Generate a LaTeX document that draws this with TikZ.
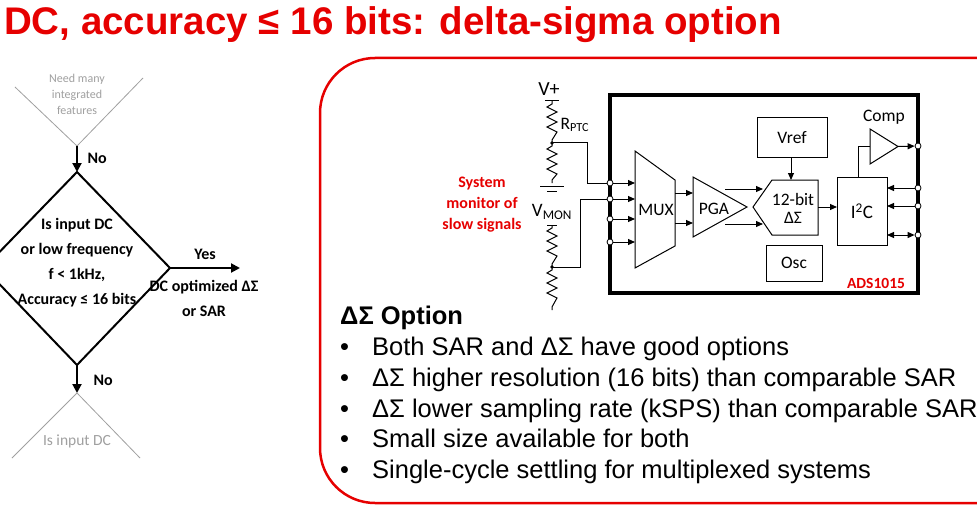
\documentclass[tikz,border=0pt]{standalone}
\usepackage{fontspec}
\setmainfont{Liberation Sans}
\newfontfamily\calfnt{Carlito}
\usetikzlibrary{arrows.meta}
\definecolor{tired}{RGB}{230,0,0}
\definecolor{gr}{RGB}{160,160,160}
\tikzset{
 ln/.style={line width=1pt,black},
 ar/.style={ln,-{Triangle[length=7pt,width=6pt]}},
 pin/.style={circle,draw,fill=white,inner sep=0pt,minimum size=6pt,line width=0.8pt},
 blk/.style={draw,line width=1pt,inner sep=0pt},
 ctext/.style={font=\calfnt\fontsize{17.5}{18}\selectfont},
 ftext/.style={font=\calfnt\bfseries\fontsize{16}{25}\selectfont,align=center},
 bul/.style={anchor=west,font=\fontsize{25.5}{28}\selectfont,inner sep=0pt,text height=1.7ex,text depth=0.4ex}
}
\newcommand\res[2]{\draw[ln] (552,#1) -- (552,#1+3) -- (547,#1+6) -- (557,#1+11) -- (547,#1+16) -- (557,#1+21) -- (547,#1+26) -- (557,#1+31)--(552,#2-3) -- (552,#2);}
\begin{document}
\begin{tikzpicture}[x=1pt,y=-1pt]
\useasboundingbox (0,0) rectangle (977,508);
\fill[white] (0,0) rectangle (977,508);
\node[anchor=west,inner sep=0pt,text=tired,font=\bfseries\fontsize{38.5}{40}\selectfont] (title) at (4,25) {DC, accuracy ≤ 16 bits: delta-sigma option};
\draw[tired,line width=2.5pt,rounded corners=55pt] (990,58) -- (320,58) -- (320,503) -- (990,503);
% flowchart
\draw[gr,line width=0.8pt] (15,87) -- (77,146) -- (143,78);
\node[text=gr,font=\calfnt\fontsize{12}{16}\selectfont,align=center] (need) at (77,94) {Need many\\integrated\\features};
\coordinate (vtop) at (77,146);
\coordinate (dt) at (77,172); \coordinate (dr) at (170,268); \coordinate (db) at (77,365); \coordinate (dl) at (-16,268);
\draw[line width=2pt] (dt) -- (dr) -- (db) -- (dl) -- cycle;
\node[ftext] (q) at (77,263) {Is input DC\\or low frequency\\f < 1kHz,\\Accuracy ≤ 16 bits};
\draw[line width=2pt,-{Triangle[length=9pt,width=9pt]}] (vtop) -- (dt);
\node[ftext,anchor=west] (no1) at (84,158) {No};
\coordinate (yesend) at (240,268);
\draw[line width=2pt,-{Triangle[length=9pt,width=9pt]}] (dr) -- (yesend);
\node[ftext] (yes) at (205,254) {Yes};
\node[ftext] (dco) at (204,298) {DC optimized ΔΣ\\or SAR};
\coordinate (vbot) at (77,393);
\draw[line width=2pt,-{Triangle[length=9pt,width=9pt]}] (db) -- (vbot);
\node[ftext,anchor=west] (no2) at (90,380) {No};
\draw[gr,line width=0.8pt] (12,458) -- (vbot) -- (140,458);
\node[text=gr,font=\calfnt\fontsize{15.5}{16}\selectfont] (isdc) at (77,441) {Is input DC};
% circuit
\node[text=tired,font=\calfnt\bfseries\fontsize{16}{21}\selectfont,align=center] (sys) at (482,205) {System\\monitor of\\slow signals};
\draw[line width=3.5pt] (610,95) rectangle (918,293);
\node[ctext,font=\calfnt\fontsize{20}{18}\selectfont] (vp) at (549,89) {V+};
\draw[ln] (545,101) -- (559,101);
\res{101}{143}
\node[ctext,anchor=west] (rptc) at (557,125) {R\textsubscript{PTC}};
\res{143}{183}
\draw[ln] (540,186) -- (564,186); \draw[ln] (547,191) -- (557,191);
\fill (552,143) circle (1.8pt);
\node[ctext,font=\calfnt\fontsize{19}{18}\selectfont] (vmon) at (552,212) {V\textsubscript{MON}};
\draw[ln] (547,225) -- (557,225);
\res{225}{267}
\res{267}{310}
\fill (552,267) circle (1.8pt);
\foreach \y/\n in {183/p1,199/p2,219/p3,242/p4} {\node[pin] (\n) at (610,\y) {}; \draw[ar] (\n) -- (635,\y);}
\draw[ln] (552,143) -- (587,143) -- (587,183) -- (p1);
\draw[ln] (552,267) -- (580,267) -- (580,199) -- (p2);
\draw[ln] (635,151) -- (675,180) -- (675,246) -- (635,268) -- cycle;
\node[ctext] (mux) at (656,210) {MUX};
\draw[ln] (693,177) -- (747,207) -- (693,237) -- cycle;
\node[ctext] (pga) at (714,209) {PGA};
\draw[ar] (675,193) -- (693,193); \draw[ar] (675,223) -- (693,223);
\draw[ln] (753,207) -- (772,180) -- (818,180) -- (818,235) -- (772,235) -- cycle;
\draw[ar] (725,189) -- (763,189); \draw[ar] (725,224) -- (763,224);
\node[ctext,align=center] (ds) at (793,208) {12-bit\\ΔΣ};
\node[blk,minimum width=70pt,minimum height=39pt,ctext] (vref) at (792,137.5) {Vref};
\draw[ar] (791,157) -- (791,180);
\node[blk,minimum width=56pt,minimum height=36pt,ctext] (osc) at (794,263) {Osc};
\node[text=tired,font=\calfnt\bfseries\fontsize{15.5}{16}\selectfont] (ads) at (876,283) {ADS1015};
\node[blk,minimum width=50pt,minimum height=68pt,ctext,font=\calfnt\fontsize{19}{18}\selectfont] (i2c) at (862,211) {I\textsuperscript{2}C};
\draw[ar] (818,207) -- (837,207);
\draw[ln] (870,129) -- (898,146.5) -- (870,164) -- cycle;
\draw[ln] (858,177) -- (858,147) -- (870,147);
\node[ctext] (comp) at (884,117) {Comp};
\foreach \y/\n in {146/q0,188/q1,206/q2,235/q3} \node[pin] (\n) at (918,\y) {};
\draw[ar] (898,146.5) -- (q0);
\draw[ar] (q1) -- (887,188);
\draw[ar] (q2) -- (887,206);
\draw[ln,{Triangle[length=7pt,width=6pt]}-{Triangle[length=7pt,width=6pt]}] (887,235) -- (q3);
% bullets
\node[bul,font=\bfseries\fontsize{25.5}{28}\selectfont] (h) at (340,321) {ΔΣ Option};
\foreach \y/\t in {352/{Both SAR and ΔΣ have good options},383/{ΔΣ higher resolution (16 bits) than comparable SAR},414/{ΔΣ lower sampling rate (kSPS) than comparable SAR},444/{Small size available for both},475/{Single-cycle settling for multiplexed systems}}
 {\node[bul] at (340,\y) {•}; \node[bul] at (372,\y) {\t};}
\end{tikzpicture}
\end{document}
